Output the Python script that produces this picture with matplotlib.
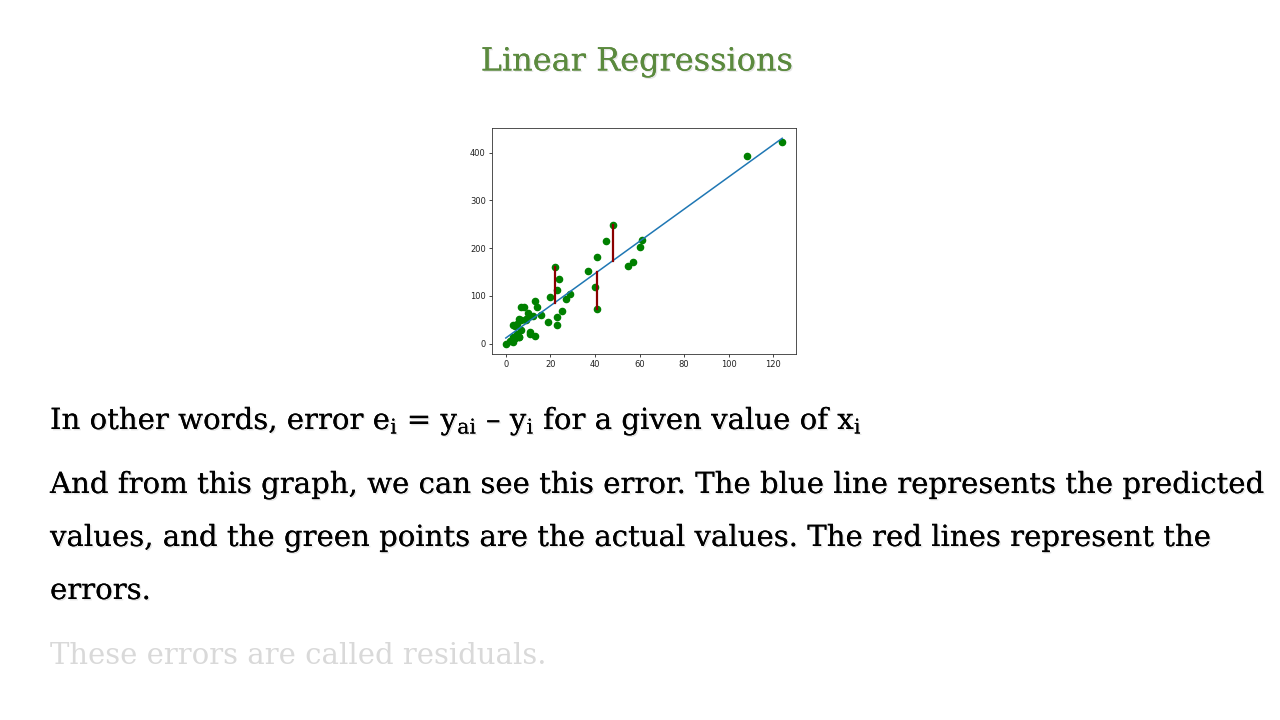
import matplotlib
matplotlib.use("Agg")
import matplotlib.pyplot as plt
import matplotlib.patheffects as pe
import numpy as np

# Data (claims vs payment)
x_vals = [108, 19, 13, 124, 40, 57, 23, 14, 45, 10, 5, 48, 11, 23, 7, 2, 24, 6, 3, 23,
          6, 9, 9, 3, 29, 7, 4, 20, 7, 4, 0, 25, 6, 5, 22, 11, 61, 12, 4, 16,
          13, 60, 41, 37, 55, 41, 11, 27, 8, 3]
y_vals = [392.5, 46.2, 15.7, 422.2, 119.4, 170.9, 56.9, 77.5, 214, 65.3, 20.9, 248.1, 23.5,
          39.6, 48.8, 6.6, 134.9, 50.9, 4.4, 113, 14.8, 48.7, 52.1, 13.2, 103.9, 77.5,
          11.8, 98.1, 27.9, 38.1, 0, 69.2, 14.6, 40.3, 161.5, 57.2, 217.6, 58.1, 12.6,
          59.6, 89.9, 202.4, 181.3, 152.8, 162.8, 73.4, 21.3, 92.6, 76.1, 39.9]
fit_intercept = 12.0
fit_slope = 3.37
residual_x = [22, 41, 48]
residual_y = [161.5, 73.4, 248.1]

title_text = "Linear Regressions"
line1 = ("In other words, error e$_{\\mathregular{i}}$ = y$_{\\mathregular{ai}}$ \u2013 "
         "y$_{\\mathregular{i}}$ for a given value of x$_{\\mathregular{i}}$")
para_lines = ["And from this graph, we can see this error. The blue line represents the predicted",
              "values, and the green points are the actual values. The red lines represent the",
              "errors."]
faded_line = "These errors are called residuals."

plt.rcParams['font.family'] = ['DejaVu Serif']
plt.rcParams['mathtext.fontset'] = 'dejavuserif'

fig = plt.figure(figsize=(12.8, 7.2), dpi=100)
fig.patch.set_facecolor('white')

shadow = [pe.withSimplePatchShadow(offset=(1.0, -1.0), shadow_rgbFace='gray', alpha=0.2), pe.Normal()]

fig.text(0.4977, 1 - 62 / 720, title_text, ha='center', va='center', fontsize=23,
         color='#5b8a3e', path_effects=shadow)

ax = fig.add_axes([492 / 1280, 1 - 354 / 720, 304 / 1280, 226 / 720])
xs = np.array(x_vals, dtype=float)
ys = np.array(y_vals, dtype=float)
pred = fit_intercept + fit_slope * xs
ax.scatter(xs, ys, color='green', s=20, zorder=2)
order = np.argsort(xs)
ax.plot(xs[order], pred[order], color='#1f77b4', lw=1.1, zorder=3)
for rx, ry in zip(residual_x, residual_y):
    ax.plot([rx, rx], [ry, fit_intercept + fit_slope * rx], color='darkred', lw=1.6, zorder=4)
ax.set_xticks([0, 20, 40, 60, 80, 100, 120])
ax.set_yticks([0, 100, 200, 300, 400])
ax.tick_params(labelsize=6, length=2.5, width=0.6, pad=2, colors='#222222')
for lab in ax.get_xticklabels() + ax.get_yticklabels():
    lab.set_fontfamily('DejaVu Sans')
for s in ax.spines.values():
    s.set_linewidth(0.6)
    s.set_color('#333333')

fs = 21
fig.text(50 / 1280, 1 - 421 / 720, line1, ha='left', va='center', fontsize=fs,
         color='black', path_effects=shadow)
ys_lines = [485, 538, 591]
for t, yy in zip(para_lines, ys_lines):
    fig.text(50 / 1280, 1 - yy / 720, t, ha='left', va='center', fontsize=fs,
             color='black', path_effects=shadow)
fig.text(50 / 1280, 1 - 656 / 720, faded_line, ha='left', va='center', fontsize=fs,
         color='#d9d9d9')

fig.savefig('out.png', dpi=100)
